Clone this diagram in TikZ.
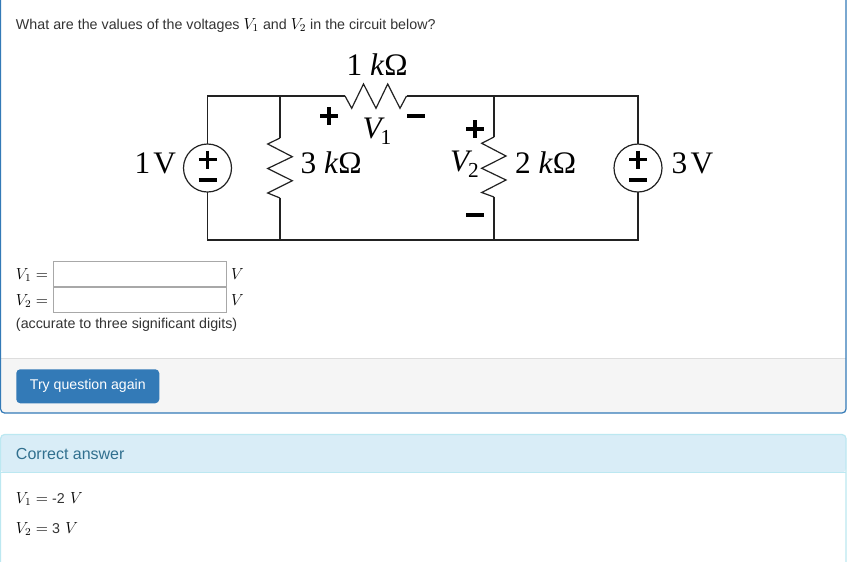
\RequirePackage{fix-cm}
\documentclass[tikz,border=0pt]{standalone}
\usepackage{fontspec}
\setmainfont{Liberation Sans}
\newfontfamily\cktfont{Liberation Serif}
\definecolor{txt}{HTML}{333333}
\definecolor{pblue}{HTML}{337AB7}
\definecolor{foot}{HTML}{F5F5F5}
\definecolor{footl}{HTML}{DDDDDD}
\definecolor{infob}{HTML}{BCE8F1}
\definecolor{infof}{HTML}{D9EDF7}
\definecolor{infot}{HTML}{31708F}
\definecolor{wire}{HTML}{222222}
\newcommand{\mth}[1]{{\fontsize{12pt}{13pt}\selectfont\textcolor{black}{$#1$}}}
\newcommand{\subd}[1]{\raisebox{-5.2pt}{\fontsize{16pt}{18pt}\selectfont #1}}
\tikzset{
  px/.style={x=0.75pt,y=-0.75pt},
  ui/.style={inner sep=0pt,outer sep=0pt,anchor=base west,text=txt,font=\fontsize{10.7pt}{12pt}\selectfont},
  ckt/.style={inner sep=0pt,outer sep=0pt,anchor=base west,text=black,font=\cktfont\fontsize{23.5pt}{26pt}\selectfont},
  wireline/.style={draw=wire,line width=0.9pt,line join=miter},
  srcnode/.style={circle,draw=wire,line width=0.9pt,minimum size=36pt,inner sep=0pt,outer sep=0pt,fill=white},
  pm/.style={draw=black,line width=2.8pt},
  inbox/.style={draw=black!34,line width=0.75pt,fill=white},
}
\begin{document}
\begin{tikzpicture}[px]
\useasboundingbox (0,0) rectangle (848,561);
\fill[white] (0,0) rectangle (848,561);
% question panel
\fill[foot] (1,358.5) rectangle (846,412.5);
\draw[footl,line width=0.75pt] (1,358.5) -- (846,358.5);
\draw[pblue,line width=0.9pt,rounded corners=3pt] (0.6,-8) -- (0.6,413) -- (846.0,413) -- (846.0,-8);
\node[ui] (title) at (16,29) {What are the values of the voltages \mth{V_1} and \mth{V_2} in the circuit below?};
% circuit
\coordinate (tl) at (207.5,96);
\coordinate (t3) at (280,96);
\coordinate (r1a) at (345,96);
\coordinate (r1b) at (406.5,96);
\coordinate (t2) at (494,96);
\coordinate (tr) at (638,96);
\coordinate (bl) at (207.5,240);
\coordinate (b3) at (280,240);
\coordinate (b2) at (494,240);
\coordinate (br) at (638,240);
\coordinate (r3a) at (280,138);
\coordinate (r3b) at (280,198);
\coordinate (r2a) at (494,137);
\coordinate (r2b) at (494,197);
\node[srcnode] (s1) at (207.5,168) {};
\node[srcnode] (s2) at (638,168) {};
\draw[wireline] (s1) -- (tl) -- (t3) -- (r1a);
\draw[wireline] (r1b) -- (t2) -- (tr) -- (s2);
\draw[wireline] (s1) -- (bl) -- (b3) -- (b2) -- (br) -- (s2);
\draw[wireline] (t3) -- (r3a);
\draw[wireline] (r3b) -- (b3);
\draw[wireline] (t2) -- (r2a);
\draw[wireline] (r2b) -- (b2);
\draw[wireline] (r1a) -- (351.7,108.3) -- (363.5,84) -- (376,108.3) -- (387.7,84) -- (400,108.3) -- (r1b);
\draw[wireline] (r3a) -- (267.7,144) -- (292.3,156.7) -- (267.7,168.5) -- (292.3,180.7) -- (267.7,193) -- (r3b);
\draw[wireline] (r2a) -- (481.7,143.3) -- (506,156) -- (481.7,168.3) -- (506,180) -- (481.7,192.5) -- (r2b);
% polarity marks
\foreach \c in {(207.5,159.5),(638,159.5),(329,116),(475,129)}{
  \draw[pm] \c ++(-9,0) -- ++(18,0);
  \draw[pm] \c ++(0,-9) -- ++(0,18);
}
\foreach \c in {(207.5,180),(638,180),(416,116),(475,215)}{
  \draw[pm] \c ++(-9,0) -- ++(18,0);
}
\node[ckt] (l1k) at (346.5,75) {1 \textit{k}Ω};
\node[ckt] (lV1) at (362.5,138) {\textit{V}\kern-3pt\subd{1}};
\node[ckt] (l3k) at (300.5,173) {3 \textit{k}Ω};
\node[ckt] (l1v) at (134.5,173) {1\kern2.5pt V};
\node[ckt] (lV2) at (450,171) {\textit{V}\kern-3pt\subd{2}};
\node[ckt] (l2k) at (515,173) {2 \textit{k}Ω};
\node[ckt] (l3v) at (671.5,173) {3\kern2.5pt V};
% answer inputs
\node[ui] (a1) at (16,279) {\mth{V_1=}};
\node[ui] (a2) at (16,305) {\mth{V_2=}};
\draw[inbox] (53.4,261.8) rectangle (226.6,286.2);
\draw[inbox] (53.4,287.8) rectangle (226.6,312.2);
\node[ui] (u1) at (231,279) {\mth{V}};
\node[ui] (u2) at (231,305) {\mth{V}};
\node[ui] (acc) at (16,328) {(accurate to three significant digits)};
\node[draw=none,fill=pblue,rounded corners=3pt,minimum width=107.25pt,minimum height=25.5pt,inner sep=0pt,anchor=north west,
  text=white,font=\fontsize{10.6pt}{12pt}\selectfont] (btn) at (16,369) {Try question again};
% correct answer panel
\fill[infof,rounded corners=3pt] (0.6,472.5) -- (0.6,434.5) -- (846,434.5) -- (846,472.5) -- cycle;
\draw[infob,line width=0.75pt] (0.6,472.5) -- (846,472.5);
\draw[infob,line width=0.9pt,rounded corners=3pt] (0.6,565) -- (0.6,434.5) -- (846,434.5) -- (846,565);
\node[ui,text=infot,font=\fontsize{12pt}{14pt}\selectfont] (ca) at (16,459) {Correct answer};
\node[ui] (c1) at (16,503) {\mth{V_1=}\hspace{3pt}-2\hspace{4pt}\mth{V}};
\node[ui] (c2) at (16,533) {\mth{V_2=}\hspace{3pt}3\hspace{4pt}\mth{V}};
\end{tikzpicture}
\end{document}
